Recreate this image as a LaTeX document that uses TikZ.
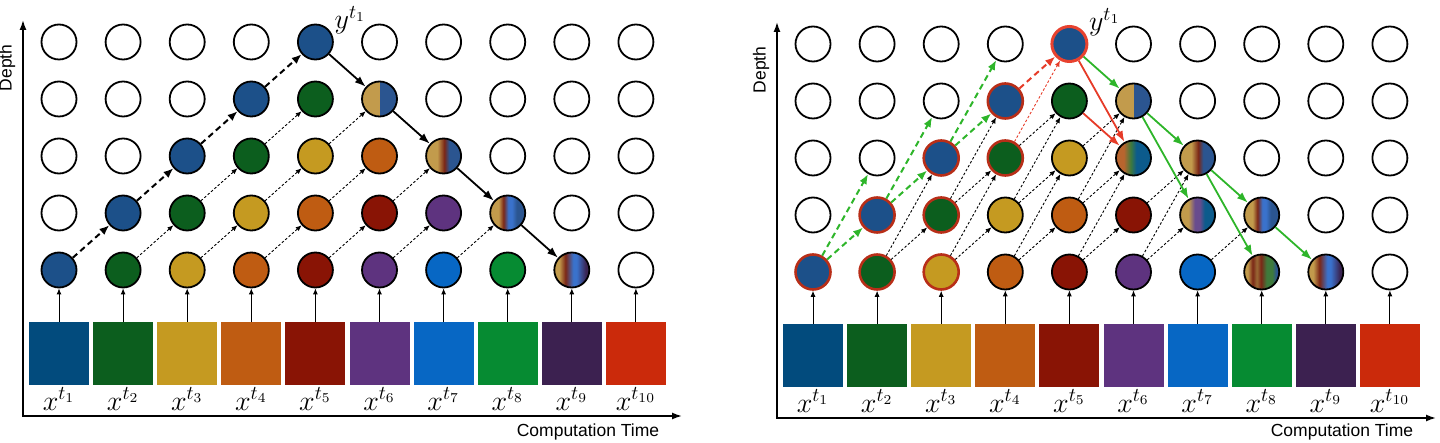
\documentclass[tikz,border=0pt]{standalone}
\usepackage{graphicx}
\usepackage{fontspec}
\setsansfont{Liberation Sans}
\usetikzlibrary{arrows.meta}

\definecolor{cnavy}{HTML}{1C5089}
\definecolor{bnavy}{HTML}{024B7D}
\definecolor{cforest}{HTML}{0C5E1E}
\definecolor{cgold}{HTML}{C59A21}
\definecolor{crust}{HTML}{BF5C12}
\definecolor{cmaroon}{HTML}{891405}
\definecolor{cplum}{HTML}{5E337F}
\definecolor{cazure}{HTML}{0767C4}
\definecolor{cgrass}{HTML}{068B32}
\definecolor{cdusk}{HTML}{3C2150}
\definecolor{cscarlet}{HTML}{CB2A0B}
\definecolor{mtan}{HTML}{C29B4C}
\definecolor{mbrown}{HTML}{7A2616}
\definecolor{msteel}{HTML}{2B5590}
\definecolor{msky}{HTML}{3A72CC}
\definecolor{mdusk}{HTML}{3A2452}
\definecolor{morange}{HTML}{B8652E}
\definecolor{mmoss}{HTML}{3E7A3C}
\definecolor{mteal}{HTML}{0C5B8C}
\definecolor{mviolet}{HTML}{684C8E}
\definecolor{mochre}{HTML}{9A6A35}
\definecolor{ringred}{HTML}{B82E18}
\definecolor{topred}{HTML}{E8422F}
\definecolor{pathgreen}{HTML}{2EB52A}
\definecolor{pathred}{HTML}{E63B28}

\pgfdeclarehorizontalshading{mixA}{100bp}{color(0bp)=(mtan); color(49.5bp)=(mtan); color(50.5bp)=(msteel); color(100bp)=(msteel)}
\pgfdeclarehorizontalshading{mixB}{100bp}{color(0bp)=(mtan); color(41bp)=(mtan); color(51bp)=(mbrown); color(58bp)=(msteel); color(100bp)=(msteel)}
\pgfdeclarehorizontalshading{mixC}{100bp}{color(0bp)=(mtan); color(37bp)=(mtan); color(44bp)=(mbrown); color(51bp)=(msky); color(56bp)=(msky); color(63bp)=(msteel); color(100bp)=(msteel)}
\pgfdeclarehorizontalshading{mixD}{100bp}{color(0bp)=(mtan); color(32bp)=(mtan); color(41bp)=(mbrown); color(52bp)=(msky); color(57bp)=(msky); color(70bp)=(mdusk); color(100bp)=(mdusk)}
\pgfdeclarehorizontalshading{mixE}{100bp}{color(0bp)=(morange); color(36bp)=(morange); color(46bp)=(mmoss); color(54bp)=(mteal); color(100bp)=(mteal)}
\pgfdeclarehorizontalshading{mixF}{100bp}{color(0bp)=(mtan); color(37bp)=(mtan); color(46bp)=(mviolet); color(53bp)=(mviolet); color(60bp)=(mteal); color(100bp)=(mteal)}
\pgfdeclarehorizontalshading{mixG}{100bp}{color(0bp)=(mtan); color(30bp)=(mtan); color(37bp)=(mbrown); color(43bp)=(mochre); color(49bp)=(mbrown); color(57bp)=(mmoss); color(65bp)=(mmoss); color(71bp)=(msteel); color(100bp)=(msteel)}

\newcommand{\biglabel}[1]{\scalebox{1.95}{\Large$#1$}}

\begin{document}
\begin{tikzpicture}[x=1pt,y=-1pt,
		blank/.style={circle,draw,line width=1.8pt,minimum size=35pt,inner sep=0pt,fill=white},
		navy/.style={blank,fill=cnavy},
		forest/.style={blank,fill=cforest},
		gold/.style={blank,fill=cgold},
		rust/.style={blank,fill=crust},
		maroon/.style={blank,fill=cmaroon},
		plum/.style={blank,fill=cplum},
		azure/.style={blank,fill=cazure},
		grass/.style={blank,fill=cgrass},
		blendA/.style={blank,shading=mixA},
		blendB/.style={blank,shading=mixB},
		blendC/.style={blank,shading=mixC},
		blendD/.style={blank,shading=mixD},
		blendE/.style={blank,shading=mixE},
		blendF/.style={blank,shading=mixF},
		blendG/.style={blank,shading=mixG},
		hot/.style={draw=ringred,line width=2.6pt},
		navyR/.style={navy,hot},
		forestR/.style={forest,hot},
		goldR/.style={gold,hot},
		navyT/.style={navy,draw=topred,line width=3pt},
		box/.style={minimum width=60pt,minimum height=63pt,inner sep=0pt},
		tlabel/.style={inner sep=0pt},
		axlabel/.style={font=\sffamily\fontsize{17.5}{20}\selectfont},
		feed/.style={line width=0.9pt,-{Latex[length=6pt,width=5pt]}},
		hop/.style={line width=0.9pt,dash pattern=on 2.5pt off 2pt,-{Latex[length=6pt,width=5pt]}},
		skip/.style={line width=2pt,dash pattern=on 6pt off 4pt,-{Latex[length=10pt,width=8pt]}},
		flow/.style={line width=1.8pt,-{Latex[length=11pt,width=8pt]}},
		axis/.style={line width=1.5pt,{Latex[length=10pt,width=7pt]}-{Latex[length=10pt,width=7pt]}}]
		\useasboundingbox (0,0) rectangle (1440,443);

		% left grid
		\foreach \r/\row in {
			1/{navy,forest,gold,rust,maroon,plum,azure,grass,blendD,blank},
			2/{blank,navy,forest,gold,rust,maroon,plum,blendC,blank,blank},
			3/{blank,blank,navy,forest,gold,rust,blendB,blank,blank,blank},
			4/{blank,blank,blank,navy,forest,blendA,blank,blank,blank,blank},
			5/{blank,blank,blank,blank,navy,blank,blank,blank,blank,blank}}
			\foreach \s [count=\c] in \row
				\node[\s] (L-\c-\r) at ({59+64.1*(\c-1)},{270-57*(\r-1)}) {};

		% right grid
		\foreach \r/\row in {
			1/{navyR,forestR,goldR,rust,maroon,plum,azure,blendG,blendD,blank},
			2/{blank,navyR,forestR,gold,rust,maroon,blendF,blendC,blank,blank},
			3/{blank,blank,navyR,forestR,gold,blendE,blendB,blank,blank,blank},
			4/{blank,blank,blank,navyR,forest,blendA,blank,blank,blank,blank},
			5/{blank,blank,blank,blank,navyT,blank,blank,blank,blank,blank}}
			\foreach \s [count=\c] in \row
				\node[\s] (R-\c-\r) at ({813+64.1*(\c-1)},{272-57*(\r-1)}) {};

		% inputs, axes and labels
		\foreach \p/\xo/\yo in {L/59/0,R/813/2}{
			\foreach \k [count=\c] in {bnavy,cforest,cgold,crust,cmaroon,cplum,cazure,cgrass,cdusk,cscarlet}{
				\node[box,fill=\k] (\p x\c) at ({\xo+64.1*(\c-1)},{353.5+\yo}) {};
				\node[tlabel,anchor=base] (\p t\c) at ({\xo+64.1*(\c-1)},{410+\yo}) {\biglabel{x^{t_{\c}}}};
				\draw[feed] (\p x\c) -- (\p-\c-1);
			}
			\coordinate (\p o) at ({\xo-36},{416+\yo});
			\coordinate (\p up) at ({\xo-36},{20+\yo});
			\coordinate (\p end) at ({\xo+623},{416+\yo});
			\draw[axis] (\p up) -- (\p o) -- (\p end);
			\node[axlabel,rotate=90] (\p depth) at ({\xo-52},{68+\yo}) {Depth};
			\node[axlabel] (\p time) at ({\xo+529},432) {Computation Time};
			\node[tlabel,anchor=base west,xshift=6pt,yshift=0pt] (\p out) at (\p-5-5.north east) {\biglabel{y^{t_1}}};
		}

		% left connections
		\foreach \a/\b in {2-1/3-2,3-2/4-3,4-3/5-4,3-1/4-2,4-2/5-3,5-3/6-4,4-1/5-2,5-2/6-3,5-1/6-2,6-2/7-3,6-1/7-2,7-1/8-2}
			\draw[hop] (L-\a) -- (L-\b);
		\foreach \a/\b in {1-1/2-2,2-2/3-3,3-3/4-4,4-4/5-5}
			\draw[skip] (L-\a) -- (L-\b);
		\foreach \a/\b in {5-5/6-4,6-4/7-3,7-3/8-2,8-2/9-1}
			\draw[flow] (L-\a) -- (L-\b);

		% right connections
		\foreach \a/\b in {2-1/3-2,2-1/3-3,3-1/4-2,3-1/4-3,3-2/4-3,3-2/4-4,4-1/5-2,4-1/5-3,4-2/5-3,4-2/5-4,4-3/5-4,
				5-1/6-2,5-1/6-3,5-2/6-3,5-2/6-4,5-3/6-4,6-1/7-2,6-1/7-3,6-2/7-3,7-1/8-2}
			\draw[hop] (R-\a) -- (R-\b);
		\foreach \a/\b in {1-1/2-2,1-1/2-3,2-2/3-3,2-2/3-4,3-3/4-4,3-3/4-5}
			\draw[skip,color=pathgreen] (R-\a) -- (R-\b);
		\draw[skip,color=pathred] (R-4-4) -- (R-5-5);
		\draw[hop,color=pathred] (R-4-3) -- (R-5-5);
		\foreach \a/\b in {5-5/6-3,5-4/6-3}
			\draw[flow,color=pathred] (R-\a) -- (R-\b);
		\foreach \a/\b in {5-5/6-4,6-4/7-3,6-4/7-2,7-3/8-2,7-3/8-1,8-2/9-1}
			\draw[flow,color=pathgreen] (R-\a) -- (R-\b);
	\end{tikzpicture}
\end{document}
